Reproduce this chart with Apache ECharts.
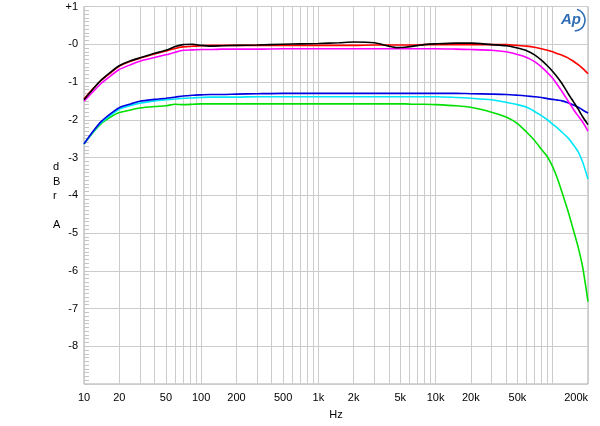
<!DOCTYPE html>
<html>
<head>
<meta charset="utf-8">
<script src="https://cdn.jsdelivr.net/npm/echarts@6/dist/echarts.min.js"></script>
<style>html,body{margin:0;padding:0;background:#fff}#c{width:600px;height:426px}</style>
</head>
<body>
<div id="c"></div>
<script>
var freqs = [10,12,14,17,20,25,30,40,50,60,70,85,100,120,150,200,300,500,700,1000,1500,2000,3000,4000,4700,5500,6500,8000,10000,15000,20000,30000,40000,50000,60000,70000,80000,90000,100000,110000,120000,135000,150000,165000,180000,200000];

var redVals     = [-1.45,-1.17,-0.96,-0.75,-0.58,-0.45,-0.37,-0.26,-0.18,-0.11,-0.07,-0.05,-0.04,-0.03,-0.03,-0.03,-0.03,-0.03,-0.03,-0.03,-0.03,-0.03,-0.02,-0.02,-0.02,-0.02,-0.02,-0.01,-0.01,-0.01,-0.01,-0.01,-0.01,-0.03,-0.05,-0.08,-0.12,-0.16,-0.2,-0.25,-0.29,-0.36,-0.45,-0.54,-0.64,-0.78];
var magentaVals = [-1.51,-1.25,-1.04,-0.83,-0.67,-0.54,-0.45,-0.35,-0.28,-0.21,-0.16,-0.15,-0.14,-0.14,-0.13,-0.13,-0.13,-0.12,-0.12,-0.12,-0.12,-0.12,-0.12,-0.12,-0.12,-0.12,-0.12,-0.12,-0.12,-0.13,-0.14,-0.16,-0.2,-0.27,-0.35,-0.46,-0.6,-0.75,-0.9,-1.08,-1.25,-1.5,-1.72,-1.9,-2.06,-2.3];
var blackVals   = [-1.47,-1.18,-0.95,-0.73,-0.57,-0.44,-0.36,-0.24,-0.16,-0.06,-0.01,0.0,-0.03,-0.05,-0.04,-0.03,-0.02,0.0,0.01,0.02,0.04,0.06,0.04,-0.05,-0.09,-0.08,-0.05,-0.01,0.01,0.03,0.03,-0.01,-0.04,-0.1,-0.17,-0.28,-0.42,-0.57,-0.72,-0.88,-1.04,-1.3,-1.52,-1.72,-1.92,-2.13];
var blueVals    = [-2.64,-2.3,-2.05,-1.83,-1.68,-1.58,-1.51,-1.46,-1.43,-1.4,-1.37,-1.35,-1.34,-1.33,-1.33,-1.32,-1.31,-1.3,-1.3,-1.3,-1.3,-1.3,-1.3,-1.3,-1.3,-1.3,-1.3,-1.3,-1.3,-1.3,-1.31,-1.32,-1.33,-1.35,-1.37,-1.39,-1.41,-1.44,-1.46,-1.48,-1.5,-1.55,-1.61,-1.67,-1.74,-1.82];
var cyanVals    = [-2.64,-2.32,-2.08,-1.87,-1.72,-1.62,-1.56,-1.5,-1.47,-1.45,-1.43,-1.42,-1.41,-1.4,-1.4,-1.4,-1.39,-1.39,-1.39,-1.39,-1.39,-1.39,-1.39,-1.39,-1.39,-1.39,-1.39,-1.39,-1.39,-1.41,-1.43,-1.47,-1.54,-1.6,-1.67,-1.78,-1.89,-2.0,-2.12,-2.22,-2.33,-2.48,-2.66,-2.85,-3.12,-3.57];
var greenVals   = [-2.64,-2.33,-2.1,-1.92,-1.81,-1.74,-1.69,-1.65,-1.63,-1.59,-1.6,-1.59,-1.58,-1.58,-1.58,-1.58,-1.58,-1.58,-1.58,-1.58,-1.58,-1.58,-1.58,-1.58,-1.58,-1.58,-1.59,-1.59,-1.6,-1.63,-1.67,-1.8,-1.93,-2.1,-2.33,-2.55,-2.78,-2.98,-3.25,-3.57,-3.92,-4.42,-4.92,-5.38,-5.9,-6.82];

var gridFreqs = [10,20,30,40,50,60,70,80,90,100,200,300,400,500,600,700,800,900,1000,2000,3000,4000,5000,6000,7000,8000,9000,10000,20000,30000,40000,50000,60000,70000,80000,90000,100000,200000];
var xLabelFreqs = [10,20,50,100,200,500,1000,2000,5000,10000,20000,50000,200000];
var xLabelTexts = ['10','20','50','100','200','500','1k','2k','5k','10k','20k','50k','200k'];
var yLabelValues = [1,0,-1,-2,-3,-4,-5,-6,-7,-8];
var yLabelTexts = ['+1','-0','-1','-2','-3','-4','-5','-6','-7','-8'];

function lg(f){ return Math.log(f)/Math.LN10; }
function pairs(vals){ return freqs.map(function(f,i){ return [lg(f), vals[i]]; }); }

var chart = echarts.init(document.getElementById('c'), null, {renderer:'canvas'});
var font = 'Liberation Sans, Arial, sans-serif';

function mk(name, color, vals){
  return {name:name, type:'line', data:pairs(vals), showSymbol:false, smooth:0.25,
    lineStyle:{color:color, width:1.6}, itemStyle:{color:color}, silent:true, animation:false};
}

chart.setOption({
  animation:false,
  grid:{left:84, right:12, top:6.5, bottom:42, show:true, borderColor:'#a8a8a8', borderWidth:1},
  xAxis:{
    type:'value', min:1, max:lg(200000),
    axisLine:{show:false},
    axisTick:{show:false, customValues:gridFreqs.map(lg)},
    splitLine:{show:true, lineStyle:{color:'#cccccc', width:1}},
    axisLabel:{
      customValues:xLabelFreqs.map(lg),
      formatter:function(v){
        var f = Math.round(Math.pow(10,v));
        var i = xLabelFreqs.indexOf(f);
        return i>=0 ? xLabelTexts[i] : '';
      },
      alignMaxLabel:'right',
      color:'#000', fontFamily:font, fontSize:11, margin:8
    },
    name:'Hz', nameLocation:'middle', nameGap:25,
    nameTextStyle:{color:'#000', fontFamily:font, fontSize:11}
  },
  yAxis:{
    type:'value', min:-9, max:1, interval:1,
    axisLine:{show:false},
    axisTick:{show:true, inside:true, length:5, lineStyle:{color:'#c4c4c4'}},
    minorTick:{show:true, splitNumber:10, length:5, lineStyle:{color:'#c4c4c4'}},
    splitLine:{show:true, lineStyle:{color:'#cccccc', width:1}},
    axisLabel:{
      customValues:yLabelValues,
      formatter:function(v){
        var i = yLabelValues.indexOf(Math.round(v));
        return i>=0 ? yLabelTexts[i] : '';
      },
      color:'#000', fontFamily:font, fontSize:11, margin:6
    }
  },
  graphic:[
    {type:'text', left:53, top:160, style:{text:'d\nB\nr\n\nA', fill:'#000', font:'11px '+font, lineHeight:14.5, align:'center'}},
    {type:'text', left:561, top:12, style:{text:'Ap', fill:'#2f6db5', font:'italic bold 15px '+font}},
    {type:'arc', shape:{cx:574, cy:20, r:11, startAngle:-1.3, endAngle:1.5}, style:{stroke:'#2f6db5', lineWidth:1.5, fill:null}}
  ],
  series:[
    mk('green','#00e000',greenVals),
    mk('cyan','#00e8f8',cyanVals),
    mk('blue','#0000e0',blueVals),
    mk('magenta','#ff00ff',magentaVals),
    mk('red','#ff0000',redVals),
    mk('black','#000000',blackVals)
  ]
});
</script>
</body>
</html>
